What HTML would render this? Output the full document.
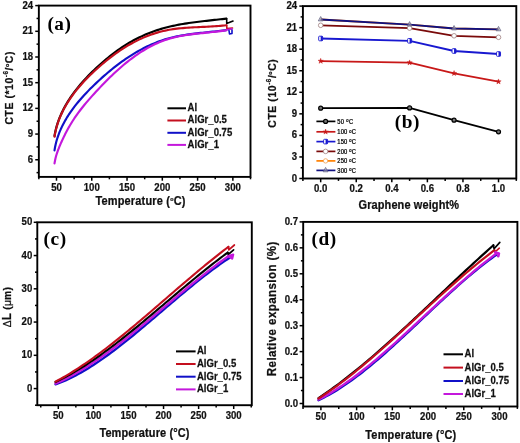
<!DOCTYPE html>
<html><head><meta charset="utf-8"><title>Thermal expansion of Al and AlGr composites</title>
<style>html,body{margin:0;padding:0;background:#fff;}body{width:520px;height:443px;overflow:hidden;}svg{display:block;}</style>
</head><body>
<svg width="520" height="443" viewBox="0 0 520 443">
<rect x="0" y="0" width="520" height="443" fill="#fff"/>
<path d="M54.50 150.32 L55.03 147.28 L55.57 144.76 L56.10 142.56 L56.64 140.59 L57.17 138.79 L57.71 137.13 L58.24 135.57 L58.78 134.11 L59.31 132.72 L59.84 131.39 L60.38 130.13 L60.91 128.92 L61.45 127.75 L61.98 126.62 L62.52 125.53 L63.05 124.47 L63.59 123.45 L64.12 122.45 L64.66 121.47 L65.19 120.53 L65.72 119.60 L66.26 118.69 L66.79 117.81 L67.33 116.94 L67.86 116.09 L68.40 115.25 L68.93 114.43 L69.47 113.63 L70.00 112.84 L70.50 112.11 L72.47 109.33 L74.44 106.70 L76.42 104.19 L78.39 101.77 L80.36 99.45 L82.33 97.21 L84.31 95.04 L86.28 92.92 L88.25 90.87 L90.22 88.87 L92.19 86.91 L94.17 84.99 L96.14 83.11 L98.11 81.27 L100.08 79.45 L102.05 77.67 L104.03 75.92 L106.00 74.20 L107.97 72.52 L109.94 70.86 L111.92 69.25 L113.89 67.66 L115.86 66.12 L117.83 64.60 L119.80 63.13 L121.78 61.69 L123.75 60.28 L125.72 58.92 L127.69 57.59 L129.66 56.30 L131.64 55.04 L133.61 53.82 L135.58 52.64 L137.55 51.50 L139.53 50.39 L141.50 49.33 L143.47 48.29 L145.44 47.30 L147.41 46.34 L149.39 45.42 L151.36 44.54 L153.33 43.70 L155.30 42.89 L157.27 42.12 L159.25 41.38 L161.22 40.69 L163.19 40.02 L165.16 39.40 L167.14 38.81 L169.11 38.26 L171.08 37.74 L173.05 37.26 L175.02 36.81 L177.00 36.40 L178.97 36.00 L180.94 35.64 L182.91 35.29 L184.88 34.97 L186.86 34.67 L188.83 34.38 L190.80 34.11 L192.77 33.85 L194.75 33.60 L196.72 33.36 L198.69 33.14 L200.66 32.92 L202.63 32.70 L204.61 32.49 L206.58 32.28 L208.55 32.08 L210.52 31.87 L212.49 31.66 L214.47 31.46 L216.44 31.25 L218.41 31.03 L220.38 30.81 L222.36 30.59 L224.33 30.36 L226.30 30.12" fill="none" stroke="#1010c8" stroke-width="2.15" stroke-linecap="round" stroke-linejoin="round"/>
<path d="M54.50 163.39 L55.03 160.44 L55.57 158.08 L56.10 156.06 L56.64 154.27 L57.17 152.63 L57.71 151.11 L58.24 149.67 L58.78 148.29 L59.31 146.97 L59.84 145.68 L60.38 144.42 L60.91 143.18 L61.45 141.97 L61.98 140.78 L62.52 139.62 L63.05 138.47 L63.59 137.35 L64.12 136.24 L64.66 135.15 L65.19 134.09 L65.72 133.04 L66.26 132.01 L66.79 131.00 L67.33 130.00 L67.86 129.02 L68.40 128.06 L68.93 127.11 L69.47 126.18 L70.00 125.27 L70.50 124.43 L72.47 121.23 L74.44 118.22 L76.42 115.36 L78.39 112.63 L80.36 110.01 L82.33 107.49 L84.31 105.05 L86.28 102.67 L88.25 100.36 L90.22 98.10 L92.19 95.88 L94.17 93.71 L96.14 91.57 L98.11 89.46 L100.08 87.37 L102.05 85.31 L104.03 83.28 L106.00 81.27 L107.97 79.29 L109.94 77.35 L111.92 75.44 L113.89 73.57 L115.86 71.74 L117.83 69.94 L119.80 68.18 L121.78 66.47 L123.75 64.80 L125.72 63.16 L127.69 61.58 L129.66 60.03 L131.64 58.53 L133.61 57.07 L135.58 55.66 L137.55 54.29 L139.53 52.97 L141.50 51.70 L143.47 50.47 L145.44 49.29 L147.41 48.15 L149.39 47.06 L151.36 46.02 L153.33 45.03 L155.30 44.08 L157.27 43.18 L159.25 42.32 L161.22 41.52 L163.19 40.76 L165.16 40.04 L167.14 39.38 L169.11 38.76 L171.08 38.19 L173.05 37.66 L175.02 37.18 L177.00 36.73 L178.97 36.32 L180.94 35.94 L182.91 35.59 L184.88 35.26 L186.86 34.96 L188.83 34.67 L190.80 34.41 L192.77 34.16 L194.75 33.92 L196.72 33.69 L198.69 33.47 L200.66 33.26 L202.63 33.06 L204.61 32.85 L206.58 32.65 L208.55 32.44 L210.52 32.23 L212.49 32.02 L214.47 31.81 L216.44 31.58 L218.41 31.35 L220.38 31.10 L222.36 30.85 L224.33 30.58 L226.30 30.30" fill="none" stroke="#c418dc" stroke-width="2.15" stroke-linecap="round" stroke-linejoin="round"/>
<path d="M54.50 136.01 L55.03 133.03 L55.57 130.54 L56.10 128.36 L56.64 126.39 L57.17 124.60 L57.71 122.93 L58.24 121.36 L58.78 119.89 L59.31 118.48 L59.84 117.14 L60.38 115.86 L60.91 114.63 L61.45 113.44 L61.98 112.30 L62.52 111.19 L63.05 110.11 L63.59 109.06 L64.12 108.04 L64.66 107.05 L65.19 106.08 L65.72 105.13 L66.26 104.20 L66.79 103.30 L67.33 102.41 L67.86 101.54 L68.40 100.68 L68.93 99.84 L69.47 99.02 L70.00 98.21 L70.50 97.46 L72.47 94.62 L74.44 91.92 L76.42 89.35 L78.39 86.89 L80.36 84.53 L82.33 82.25 L84.31 80.05 L86.28 77.91 L88.25 75.85 L90.22 73.83 L92.19 71.88 L94.17 69.97 L96.14 68.10 L98.11 66.28 L100.08 64.49 L102.05 62.75 L104.03 61.04 L106.00 59.37 L107.97 57.74 L109.94 56.15 L111.92 54.60 L113.89 53.09 L115.86 51.62 L117.83 50.19 L119.80 48.81 L121.78 47.47 L123.75 46.17 L125.72 44.91 L127.69 43.70 L129.66 42.53 L131.64 41.40 L133.61 40.31 L135.58 39.27 L137.55 38.26 L139.53 37.29 L141.50 36.36 L143.47 35.46 L145.44 34.60 L147.41 33.78 L149.39 32.99 L151.36 32.23 L153.33 31.50 L155.30 30.80 L157.27 30.14 L159.25 29.50 L161.22 28.90 L163.19 28.32 L165.16 27.77 L167.14 27.25 L169.11 26.76 L171.08 26.29 L173.05 25.85 L175.02 25.43 L177.00 25.04 L178.97 24.66 L180.94 24.30 L182.91 23.96 L184.88 23.64 L186.86 23.33 L188.83 23.04 L190.80 22.76 L192.77 22.49 L194.75 22.22 L196.72 21.97 L198.69 21.73 L200.66 21.49 L202.63 21.26 L204.61 21.03 L206.58 20.81 L208.55 20.59 L210.52 20.37 L212.49 20.16 L214.47 19.94 L216.44 19.73 L218.41 19.52 L220.38 19.30 L222.36 19.08 L224.33 18.86 L226.30 18.64" fill="none" stroke="#000000" stroke-width="2.15" stroke-linecap="round" stroke-linejoin="round"/>
<path d="M54.50 136.70 L55.03 133.66 L55.57 131.13 L56.10 128.92 L56.64 126.93 L57.17 125.12 L57.71 123.44 L58.24 121.86 L58.78 120.38 L59.31 118.98 L59.84 117.64 L60.38 116.36 L60.91 115.13 L61.45 113.94 L61.98 112.80 L62.52 111.70 L63.05 110.63 L63.59 109.59 L64.12 108.58 L64.66 107.59 L65.19 106.63 L65.72 105.69 L66.26 104.78 L66.79 103.88 L67.33 103.01 L67.86 102.15 L68.40 101.30 L68.93 100.48 L69.47 99.67 L70.00 98.87 L70.50 98.13 L72.47 95.34 L74.44 92.70 L76.42 90.19 L78.39 87.78 L80.36 85.47 L82.33 83.25 L84.31 81.10 L86.28 79.03 L88.25 77.01 L90.22 75.05 L92.19 73.15 L94.17 71.29 L96.14 69.48 L98.11 67.70 L100.08 65.97 L102.05 64.27 L104.03 62.61 L106.00 60.99 L107.97 59.40 L109.94 57.85 L111.92 56.34 L113.89 54.87 L115.86 53.44 L117.83 52.05 L119.80 50.70 L121.78 49.39 L123.75 48.12 L125.72 46.89 L127.69 45.70 L129.66 44.55 L131.64 43.44 L133.61 42.37 L135.58 41.34 L137.55 40.35 L139.53 39.40 L141.50 38.49 L143.47 37.63 L145.44 36.79 L147.41 36.00 L149.39 35.25 L151.36 34.54 L153.33 33.86 L155.30 33.22 L157.27 32.62 L159.25 32.06 L161.22 31.53 L163.19 31.05 L165.16 30.60 L167.14 30.18 L169.11 29.81 L171.08 29.47 L173.05 29.16 L175.02 28.89 L177.00 28.65 L178.97 28.43 L180.94 28.23 L182.91 28.06 L184.88 27.90 L186.86 27.76 L188.83 27.63 L190.80 27.51 L192.77 27.40 L194.75 27.30 L196.72 27.21 L198.69 27.11 L200.66 27.02 L202.63 26.93 L204.61 26.84 L206.58 26.74 L208.55 26.64 L210.52 26.54 L212.49 26.42 L214.47 26.30 L216.44 26.16 L218.41 26.02 L220.38 25.86 L222.36 25.69 L224.33 25.50 L226.30 25.30" fill="none" stroke="#c40f1e" stroke-width="2.15" stroke-linecap="round" stroke-linejoin="round"/>
<path d="M226.7 18.5 L226.7 23.5 L233 21.0" fill="none" stroke="#000000" stroke-width="1.60" stroke-linecap="round" stroke-linejoin="round"/>
<path d="M226.7 25.0 L226.9 28.6 L232.5 28.0" fill="none" stroke="#c40f1e" stroke-width="1.60" stroke-linecap="round" stroke-linejoin="round"/>
<path d="M226.7 29.8 L232 28.9" fill="none" stroke="#c418dc" stroke-width="1.60" stroke-linecap="round" stroke-linejoin="round"/>
<path d="M229 30.5 L229.5 34 L232 33.5 L232 30" fill="none" stroke="#1010c8" stroke-width="1.60" stroke-linecap="round" stroke-linejoin="round"/>
<rect x="38.85" y="5.60" width="211.65" height="171.30" fill="none" stroke="#000" stroke-width="1.90"/>
<line x1="35.25" y1="159.77" x2="38.85" y2="159.77" stroke="#000" stroke-width="1.50"/>
<text transform="translate(33.10 162.82) scale(0.850 1)" text-anchor="end" font-size="11.3" font-weight="bold" font-family="'Liberation Sans', Arial, sans-serif" fill="#111" stroke="#111" stroke-width="0.25">6</text>
<line x1="35.25" y1="134.07" x2="38.85" y2="134.07" stroke="#000" stroke-width="1.50"/>
<text transform="translate(33.10 137.12) scale(0.850 1)" text-anchor="end" font-size="11.3" font-weight="bold" font-family="'Liberation Sans', Arial, sans-serif" fill="#111" stroke="#111" stroke-width="0.25">9</text>
<line x1="35.25" y1="108.38" x2="38.85" y2="108.38" stroke="#000" stroke-width="1.50"/>
<text transform="translate(33.10 111.43) scale(0.850 1)" text-anchor="end" font-size="11.3" font-weight="bold" font-family="'Liberation Sans', Arial, sans-serif" fill="#111" stroke="#111" stroke-width="0.25">12</text>
<line x1="35.25" y1="82.69" x2="38.85" y2="82.69" stroke="#000" stroke-width="1.50"/>
<text transform="translate(33.10 85.73) scale(0.850 1)" text-anchor="end" font-size="11.3" font-weight="bold" font-family="'Liberation Sans', Arial, sans-serif" fill="#111" stroke="#111" stroke-width="0.25">15</text>
<line x1="35.25" y1="56.99" x2="38.85" y2="56.99" stroke="#000" stroke-width="1.50"/>
<text transform="translate(33.10 60.04) scale(0.850 1)" text-anchor="end" font-size="11.3" font-weight="bold" font-family="'Liberation Sans', Arial, sans-serif" fill="#111" stroke="#111" stroke-width="0.25">18</text>
<line x1="35.25" y1="31.30" x2="38.85" y2="31.30" stroke="#000" stroke-width="1.50"/>
<text transform="translate(33.10 34.34) scale(0.850 1)" text-anchor="end" font-size="11.3" font-weight="bold" font-family="'Liberation Sans', Arial, sans-serif" fill="#111" stroke="#111" stroke-width="0.25">21</text>
<line x1="35.25" y1="5.60" x2="38.85" y2="5.60" stroke="#000" stroke-width="1.50"/>
<text transform="translate(33.10 8.65) scale(0.850 1)" text-anchor="end" font-size="11.3" font-weight="bold" font-family="'Liberation Sans', Arial, sans-serif" fill="#111" stroke="#111" stroke-width="0.25">24</text>
<line x1="36.55" y1="172.62" x2="38.85" y2="172.62" stroke="#000" stroke-width="1.50"/>
<line x1="36.55" y1="146.92" x2="38.85" y2="146.92" stroke="#000" stroke-width="1.50"/>
<line x1="36.55" y1="121.23" x2="38.85" y2="121.23" stroke="#000" stroke-width="1.50"/>
<line x1="36.55" y1="95.53" x2="38.85" y2="95.53" stroke="#000" stroke-width="1.50"/>
<line x1="36.55" y1="69.84" x2="38.85" y2="69.84" stroke="#000" stroke-width="1.50"/>
<line x1="36.55" y1="44.14" x2="38.85" y2="44.14" stroke="#000" stroke-width="1.50"/>
<line x1="36.55" y1="18.45" x2="38.85" y2="18.45" stroke="#000" stroke-width="1.50"/>
<line x1="56.49" y1="176.90" x2="56.49" y2="180.70" stroke="#000" stroke-width="1.50"/>
<text transform="translate(56.49 190.80) scale(0.850 1)" text-anchor="middle" font-size="11.3" font-weight="bold" font-family="'Liberation Sans', Arial, sans-serif" fill="#111" stroke="#111" stroke-width="0.25">50</text>
<line x1="91.76" y1="176.90" x2="91.76" y2="180.70" stroke="#000" stroke-width="1.50"/>
<text transform="translate(91.76 190.80) scale(0.850 1)" text-anchor="middle" font-size="11.3" font-weight="bold" font-family="'Liberation Sans', Arial, sans-serif" fill="#111" stroke="#111" stroke-width="0.25">100</text>
<line x1="127.04" y1="176.90" x2="127.04" y2="180.70" stroke="#000" stroke-width="1.50"/>
<text transform="translate(127.04 190.80) scale(0.850 1)" text-anchor="middle" font-size="11.3" font-weight="bold" font-family="'Liberation Sans', Arial, sans-serif" fill="#111" stroke="#111" stroke-width="0.25">150</text>
<line x1="162.31" y1="176.90" x2="162.31" y2="180.70" stroke="#000" stroke-width="1.50"/>
<text transform="translate(162.31 190.80) scale(0.850 1)" text-anchor="middle" font-size="11.3" font-weight="bold" font-family="'Liberation Sans', Arial, sans-serif" fill="#111" stroke="#111" stroke-width="0.25">200</text>
<line x1="197.59" y1="176.90" x2="197.59" y2="180.70" stroke="#000" stroke-width="1.50"/>
<text transform="translate(197.59 190.80) scale(0.850 1)" text-anchor="middle" font-size="11.3" font-weight="bold" font-family="'Liberation Sans', Arial, sans-serif" fill="#111" stroke="#111" stroke-width="0.25">250</text>
<line x1="232.86" y1="176.90" x2="232.86" y2="180.70" stroke="#000" stroke-width="1.50"/>
<text transform="translate(232.86 190.80) scale(0.850 1)" text-anchor="middle" font-size="11.3" font-weight="bold" font-family="'Liberation Sans', Arial, sans-serif" fill="#111" stroke="#111" stroke-width="0.25">300</text>
<line x1="38.85" y1="176.90" x2="38.85" y2="179.30" stroke="#000" stroke-width="1.50"/>
<line x1="74.12" y1="176.90" x2="74.12" y2="179.30" stroke="#000" stroke-width="1.50"/>
<line x1="109.40" y1="176.90" x2="109.40" y2="179.30" stroke="#000" stroke-width="1.50"/>
<line x1="144.68" y1="176.90" x2="144.68" y2="179.30" stroke="#000" stroke-width="1.50"/>
<line x1="179.95" y1="176.90" x2="179.95" y2="179.30" stroke="#000" stroke-width="1.50"/>
<line x1="215.22" y1="176.90" x2="215.22" y2="179.30" stroke="#000" stroke-width="1.50"/>
<line x1="250.50" y1="176.90" x2="250.50" y2="179.30" stroke="#000" stroke-width="1.50"/>
<text transform="translate(95.40 205.20) scale(0.900 1)" textLength="100.00" lengthAdjust="spacing" font-size="12.2" font-weight="bold" font-family="'Liberation Sans', Arial, sans-serif" fill="#111" stroke="#111" stroke-width="0.25">Temperature (<tspan font-size="6" dy="-3.9">o</tspan><tspan dy="3.9">C)</tspan></text>
<text transform="translate(13.30 124.60) rotate(-90) scale(0.900 1)" textLength="81.11" lengthAdjust="spacing" font-size="11.59" font-weight="bold" font-family="'Liberation Sans', Arial, sans-serif" fill="#111" stroke="#111" stroke-width="0.25">CTE (*10<tspan font-size="7" dy="-5.2">-6</tspan><tspan dy="5.2">/</tspan><tspan font-size="6" dy="-3.9">o</tspan><tspan dy="3.9">C)</tspan></text>
<text transform="translate(47.40 29.60)" font-size="19.3" font-weight="bold" font-family="'Liberation Serif', 'Times New Roman', serif" fill="#000" letter-spacing="0.55">(a)</text>
<line x1="167.40" y1="108.30" x2="186.00" y2="108.30" stroke="#000000" stroke-width="2.00"/>
<text transform="translate(187.60 111.20) scale(0.870 1)" font-size="11" font-weight="bold" font-family="'Liberation Sans', Arial, sans-serif" fill="#111" stroke="#111" stroke-width="0.25">Al</text>
<line x1="167.40" y1="120.50" x2="186.00" y2="120.50" stroke="#c40f1e" stroke-width="2.00"/>
<text transform="translate(187.60 123.40) scale(0.870 1)" font-size="11" font-weight="bold" font-family="'Liberation Sans', Arial, sans-serif" fill="#111" stroke="#111" stroke-width="0.25">AlGr_0.5</text>
<line x1="167.40" y1="132.80" x2="186.00" y2="132.80" stroke="#1010c8" stroke-width="2.00"/>
<text transform="translate(187.60 135.70) scale(0.870 1)" font-size="11" font-weight="bold" font-family="'Liberation Sans', Arial, sans-serif" fill="#111" stroke="#111" stroke-width="0.25">AlGr_0.75</text>
<line x1="167.40" y1="144.90" x2="186.00" y2="144.90" stroke="#c418dc" stroke-width="2.00"/>
<text transform="translate(187.60 147.80) scale(0.870 1)" font-size="11" font-weight="bold" font-family="'Liberation Sans', Arial, sans-serif" fill="#111" stroke="#111" stroke-width="0.25">AlGr_1</text>
<polyline points="320.68,108.20 409.60,107.90 454.06,120.20 498.52,131.80" fill="none" stroke="#000000" stroke-width="1.8" stroke-linejoin="round"/>
<circle cx="320.68" cy="108.20" r="2.0" fill="#777" stroke="#000" stroke-width="1.2"/>
<circle cx="409.60" cy="107.90" r="2.0" fill="#777" stroke="#000" stroke-width="1.2"/>
<circle cx="454.06" cy="120.20" r="2.0" fill="#777" stroke="#000" stroke-width="1.2"/>
<circle cx="498.52" cy="131.80" r="2.0" fill="#777" stroke="#000" stroke-width="1.2"/>
<polyline points="320.68,61.10 409.60,62.70 454.06,73.30 498.52,81.70" fill="none" stroke="#c81818" stroke-width="1.8" stroke-linejoin="round"/>
<polygon points="320.68,58.30 321.33,60.21 323.35,60.23 321.73,61.44 322.33,63.37 320.68,62.20 319.04,63.37 319.64,61.44 318.02,60.23 320.04,60.21" fill="#c81818" stroke="#c81818" stroke-width="0.4"/>
<polygon points="409.60,59.90 410.25,61.81 412.26,61.83 410.65,63.04 411.25,64.97 409.60,63.80 407.95,64.97 408.55,63.04 406.94,61.83 408.95,61.81" fill="#c81818" stroke="#c81818" stroke-width="0.4"/>
<polygon points="454.06,70.50 454.70,72.41 456.72,72.43 455.10,73.64 455.70,75.57 454.06,74.40 452.41,75.57 453.01,73.64 451.40,72.43 453.41,72.41" fill="#c81818" stroke="#c81818" stroke-width="0.4"/>
<polygon points="498.52,78.90 499.16,80.81 501.18,80.83 499.56,82.04 500.16,83.97 498.52,82.80 496.87,83.97 497.47,82.04 495.85,80.83 497.87,80.81" fill="#c81818" stroke="#c81818" stroke-width="0.4"/>
<polyline points="320.68,38.50 409.60,40.80 454.06,51.00 498.52,54.00" fill="none" stroke="#1818d0" stroke-width="1.8" stroke-linejoin="round"/>
<rect x="318.68" y="36.20" width="4.0" height="4.6" rx="0.8" fill="#fff" stroke="#1818d0" stroke-width="0.9"/>
<rect x="320.68" y="36.20" width="2.0" height="4.6" fill="#1818d0"/>
<rect x="407.60" y="38.50" width="4.0" height="4.6" rx="0.8" fill="#fff" stroke="#1818d0" stroke-width="0.9"/>
<rect x="409.60" y="38.50" width="2.0" height="4.6" fill="#1818d0"/>
<rect x="452.06" y="48.70" width="4.0" height="4.6" rx="0.8" fill="#fff" stroke="#1818d0" stroke-width="0.9"/>
<rect x="454.06" y="48.70" width="2.0" height="4.6" fill="#1818d0"/>
<rect x="496.52" y="51.70" width="4.0" height="4.6" rx="0.8" fill="#fff" stroke="#1818d0" stroke-width="0.9"/>
<rect x="498.52" y="51.70" width="2.0" height="4.6" fill="#1818d0"/>
<polyline points="320.68,25.30 409.60,28.10 454.06,35.80 498.52,37.30" fill="none" stroke="#7a0a0a" stroke-width="1.8" stroke-linejoin="round"/>
<circle cx="320.68" cy="25.30" r="2.3" fill="#fff" stroke="#a08080" stroke-width="0.8"/>
<circle cx="409.60" cy="28.10" r="2.3" fill="#fff" stroke="#a08080" stroke-width="0.8"/>
<circle cx="454.06" cy="35.80" r="2.3" fill="#fff" stroke="#a08080" stroke-width="0.8"/>
<circle cx="498.52" cy="37.30" r="2.3" fill="#fff" stroke="#a08080" stroke-width="0.8"/>
<polyline points="320.68,19.50 409.60,24.60 454.06,28.50 498.52,29.40" fill="none" stroke="#ff8000" stroke-width="1.8" stroke-linejoin="round"/>
<polyline points="320.68,19.50 409.60,24.60 454.06,28.50 498.52,29.40" fill="none" stroke="#101080" stroke-width="1.8" stroke-linejoin="round"/>
<polygon points="320.68,16.50 318.28,20.90 323.08,20.90" fill="#a0a0b8" fill-opacity="0.6" stroke="#606080" stroke-width="0.7"/>
<polygon points="409.60,21.60 407.20,26.00 412.00,26.00" fill="#a0a0b8" fill-opacity="0.6" stroke="#606080" stroke-width="0.7"/>
<polygon points="454.06,25.50 451.66,29.90 456.46,29.90" fill="#a0a0b8" fill-opacity="0.6" stroke="#606080" stroke-width="0.7"/>
<polygon points="498.52,26.40 496.12,30.80 500.92,30.80" fill="#a0a0b8" fill-opacity="0.6" stroke="#606080" stroke-width="0.7"/>
<rect x="302.90" y="6.10" width="213.40" height="172.40" fill="none" stroke="#000" stroke-width="1.90"/>
<line x1="299.30" y1="178.50" x2="302.90" y2="178.50" stroke="#000" stroke-width="1.50"/>
<text transform="translate(297.20 181.55) scale(0.850 1)" text-anchor="end" font-size="11.3" font-weight="bold" font-family="'Liberation Sans', Arial, sans-serif" fill="#111" stroke="#111" stroke-width="0.25">0</text>
<line x1="299.30" y1="156.95" x2="302.90" y2="156.95" stroke="#000" stroke-width="1.50"/>
<text transform="translate(297.20 160.00) scale(0.850 1)" text-anchor="end" font-size="11.3" font-weight="bold" font-family="'Liberation Sans', Arial, sans-serif" fill="#111" stroke="#111" stroke-width="0.25">3</text>
<line x1="299.30" y1="135.40" x2="302.90" y2="135.40" stroke="#000" stroke-width="1.50"/>
<text transform="translate(297.20 138.45) scale(0.850 1)" text-anchor="end" font-size="11.3" font-weight="bold" font-family="'Liberation Sans', Arial, sans-serif" fill="#111" stroke="#111" stroke-width="0.25">6</text>
<line x1="299.30" y1="113.85" x2="302.90" y2="113.85" stroke="#000" stroke-width="1.50"/>
<text transform="translate(297.20 116.90) scale(0.850 1)" text-anchor="end" font-size="11.3" font-weight="bold" font-family="'Liberation Sans', Arial, sans-serif" fill="#111" stroke="#111" stroke-width="0.25">9</text>
<line x1="299.30" y1="92.30" x2="302.90" y2="92.30" stroke="#000" stroke-width="1.50"/>
<text transform="translate(297.20 95.35) scale(0.850 1)" text-anchor="end" font-size="11.3" font-weight="bold" font-family="'Liberation Sans', Arial, sans-serif" fill="#111" stroke="#111" stroke-width="0.25">12</text>
<line x1="299.30" y1="70.75" x2="302.90" y2="70.75" stroke="#000" stroke-width="1.50"/>
<text transform="translate(297.20 73.80) scale(0.850 1)" text-anchor="end" font-size="11.3" font-weight="bold" font-family="'Liberation Sans', Arial, sans-serif" fill="#111" stroke="#111" stroke-width="0.25">15</text>
<line x1="299.30" y1="49.20" x2="302.90" y2="49.20" stroke="#000" stroke-width="1.50"/>
<text transform="translate(297.20 52.25) scale(0.850 1)" text-anchor="end" font-size="11.3" font-weight="bold" font-family="'Liberation Sans', Arial, sans-serif" fill="#111" stroke="#111" stroke-width="0.25">18</text>
<line x1="299.30" y1="27.65" x2="302.90" y2="27.65" stroke="#000" stroke-width="1.50"/>
<text transform="translate(297.20 30.70) scale(0.850 1)" text-anchor="end" font-size="11.3" font-weight="bold" font-family="'Liberation Sans', Arial, sans-serif" fill="#111" stroke="#111" stroke-width="0.25">21</text>
<line x1="299.30" y1="6.10" x2="302.90" y2="6.10" stroke="#000" stroke-width="1.50"/>
<text transform="translate(297.20 9.15) scale(0.850 1)" text-anchor="end" font-size="11.3" font-weight="bold" font-family="'Liberation Sans', Arial, sans-serif" fill="#111" stroke="#111" stroke-width="0.25">24</text>
<line x1="300.60" y1="167.72" x2="302.90" y2="167.72" stroke="#000" stroke-width="1.50"/>
<line x1="300.60" y1="146.18" x2="302.90" y2="146.18" stroke="#000" stroke-width="1.50"/>
<line x1="300.60" y1="124.62" x2="302.90" y2="124.62" stroke="#000" stroke-width="1.50"/>
<line x1="300.60" y1="103.08" x2="302.90" y2="103.08" stroke="#000" stroke-width="1.50"/>
<line x1="300.60" y1="81.52" x2="302.90" y2="81.52" stroke="#000" stroke-width="1.50"/>
<line x1="300.60" y1="59.98" x2="302.90" y2="59.98" stroke="#000" stroke-width="1.50"/>
<line x1="300.60" y1="38.43" x2="302.90" y2="38.43" stroke="#000" stroke-width="1.50"/>
<line x1="300.60" y1="16.88" x2="302.90" y2="16.88" stroke="#000" stroke-width="1.50"/>
<line x1="320.68" y1="178.50" x2="320.68" y2="182.30" stroke="#000" stroke-width="1.50"/>
<text transform="translate(320.68 192.40) scale(0.850 1)" text-anchor="middle" font-size="11.3" font-weight="bold" font-family="'Liberation Sans', Arial, sans-serif" fill="#111" stroke="#111" stroke-width="0.25">0.0</text>
<line x1="356.25" y1="178.50" x2="356.25" y2="182.30" stroke="#000" stroke-width="1.50"/>
<text transform="translate(356.25 192.40) scale(0.850 1)" text-anchor="middle" font-size="11.3" font-weight="bold" font-family="'Liberation Sans', Arial, sans-serif" fill="#111" stroke="#111" stroke-width="0.25">0.2</text>
<line x1="391.82" y1="178.50" x2="391.82" y2="182.30" stroke="#000" stroke-width="1.50"/>
<text transform="translate(391.82 192.40) scale(0.850 1)" text-anchor="middle" font-size="11.3" font-weight="bold" font-family="'Liberation Sans', Arial, sans-serif" fill="#111" stroke="#111" stroke-width="0.25">0.4</text>
<line x1="427.38" y1="178.50" x2="427.38" y2="182.30" stroke="#000" stroke-width="1.50"/>
<text transform="translate(427.38 192.40) scale(0.850 1)" text-anchor="middle" font-size="11.3" font-weight="bold" font-family="'Liberation Sans', Arial, sans-serif" fill="#111" stroke="#111" stroke-width="0.25">0.6</text>
<line x1="462.95" y1="178.50" x2="462.95" y2="182.30" stroke="#000" stroke-width="1.50"/>
<text transform="translate(462.95 192.40) scale(0.850 1)" text-anchor="middle" font-size="11.3" font-weight="bold" font-family="'Liberation Sans', Arial, sans-serif" fill="#111" stroke="#111" stroke-width="0.25">0.8</text>
<line x1="498.52" y1="178.50" x2="498.52" y2="182.30" stroke="#000" stroke-width="1.50"/>
<text transform="translate(498.52 192.40) scale(0.850 1)" text-anchor="middle" font-size="11.3" font-weight="bold" font-family="'Liberation Sans', Arial, sans-serif" fill="#111" stroke="#111" stroke-width="0.25">1.0</text>
<line x1="302.90" y1="178.50" x2="302.90" y2="180.90" stroke="#000" stroke-width="1.50"/>
<line x1="338.47" y1="178.50" x2="338.47" y2="180.90" stroke="#000" stroke-width="1.50"/>
<line x1="374.03" y1="178.50" x2="374.03" y2="180.90" stroke="#000" stroke-width="1.50"/>
<line x1="409.60" y1="178.50" x2="409.60" y2="180.90" stroke="#000" stroke-width="1.50"/>
<line x1="445.17" y1="178.50" x2="445.17" y2="180.90" stroke="#000" stroke-width="1.50"/>
<line x1="480.73" y1="178.50" x2="480.73" y2="180.90" stroke="#000" stroke-width="1.50"/>
<line x1="516.30" y1="178.50" x2="516.30" y2="180.90" stroke="#000" stroke-width="1.50"/>
<text transform="translate(358.50 208.80) scale(0.900 1)" textLength="111.67" lengthAdjust="spacing" font-size="12.2" font-weight="bold" font-family="'Liberation Sans', Arial, sans-serif" fill="#111" stroke="#111" stroke-width="0.25">Graphene weight%</text>
<text transform="translate(275.90 127.70) rotate(-90) scale(0.900 1)" textLength="76.11" lengthAdjust="spacing" font-size="11.59" font-weight="bold" font-family="'Liberation Sans', Arial, sans-serif" fill="#111" stroke="#111" stroke-width="0.25">CTE (10<tspan font-size="7" dy="-5.2">-6</tspan><tspan dy="5.2">/</tspan><tspan font-size="6" dy="-3.9">o</tspan><tspan dy="3.9">C)</tspan></text>
<text transform="translate(394.80 128.00)" font-size="19.3" font-weight="bold" font-family="'Liberation Serif', 'Times New Roman', serif" fill="#000" letter-spacing="0.55">(b)</text>
<line x1="316.40" y1="121.40" x2="335.40" y2="121.40" stroke="#000000" stroke-width="1.70"/>
<circle cx="325.60" cy="121.40" r="2.0" fill="#777" stroke="#000" stroke-width="1.2"/>
<text transform="translate(337.20 123.70) scale(0.880 1)" textLength="18.18" lengthAdjust="spacing" font-size="6.6" font-family="'Liberation Sans', Arial, sans-serif" fill="#000" stroke="#000" stroke-width="0.25">50 <tspan font-size="4.6" dy="-1.6">o</tspan><tspan dy="1.6">C</tspan></text>
<line x1="316.40" y1="131.80" x2="335.40" y2="131.80" stroke="#c81818" stroke-width="1.70"/>
<polygon points="325.60,129.00 326.25,130.91 328.26,130.93 326.65,132.14 327.25,134.07 325.60,132.90 323.95,134.07 324.55,132.14 322.94,130.93 324.95,130.91" fill="#c81818" stroke="#c81818" stroke-width="0.4"/>
<text transform="translate(337.20 134.10) scale(0.880 1)" textLength="21.36" lengthAdjust="spacing" font-size="6.6" font-family="'Liberation Sans', Arial, sans-serif" fill="#000" stroke="#000" stroke-width="0.25">100 <tspan font-size="4.6" dy="-1.6">o</tspan><tspan dy="1.6">C</tspan></text>
<line x1="316.40" y1="141.60" x2="335.40" y2="141.60" stroke="#1818d0" stroke-width="1.70"/>
<rect x="323.60" y="139.30" width="4.0" height="4.6" rx="0.8" fill="#fff" stroke="#1818d0" stroke-width="0.9"/>
<rect x="325.60" y="139.30" width="2.0" height="4.6" fill="#1818d0"/>
<text transform="translate(337.20 143.90) scale(0.880 1)" textLength="21.36" lengthAdjust="spacing" font-size="6.6" font-family="'Liberation Sans', Arial, sans-serif" fill="#000" stroke="#000" stroke-width="0.25">150 <tspan font-size="4.6" dy="-1.6">o</tspan><tspan dy="1.6">C</tspan></text>
<line x1="316.40" y1="151.40" x2="335.40" y2="151.40" stroke="#7a0a0a" stroke-width="1.70"/>
<circle cx="325.60" cy="151.40" r="2.3" fill="#fff" stroke="#a08080" stroke-width="0.8"/>
<text transform="translate(337.20 153.70) scale(0.880 1)" textLength="21.36" lengthAdjust="spacing" font-size="6.6" font-family="'Liberation Sans', Arial, sans-serif" fill="#000" stroke="#000" stroke-width="0.25">200 <tspan font-size="4.6" dy="-1.6">o</tspan><tspan dy="1.6">C</tspan></text>
<line x1="316.40" y1="160.90" x2="335.40" y2="160.90" stroke="#ff8000" stroke-width="1.70"/>
<circle cx="325.60" cy="160.90" r="2.2" fill="#fff" stroke="#f0a050" stroke-width="0.8"/>
<text transform="translate(337.20 163.20) scale(0.880 1)" textLength="21.36" lengthAdjust="spacing" font-size="6.6" font-family="'Liberation Sans', Arial, sans-serif" fill="#000" stroke="#000" stroke-width="0.25">250 <tspan font-size="4.6" dy="-1.6">o</tspan><tspan dy="1.6">C</tspan></text>
<line x1="316.40" y1="170.40" x2="335.40" y2="170.40" stroke="#101080" stroke-width="1.70"/>
<polygon points="325.60,167.40 323.20,171.80 328.00,171.80" fill="#a0a0b8" fill-opacity="0.6" stroke="#606080" stroke-width="0.7"/>
<text transform="translate(337.20 172.70) scale(0.880 1)" textLength="21.36" lengthAdjust="spacing" font-size="6.6" font-family="'Liberation Sans', Arial, sans-serif" fill="#000" stroke="#000" stroke-width="0.25">300 <tspan font-size="4.6" dy="-1.6">o</tspan><tspan dy="1.6">C</tspan></text>
<path d="M55.50 384.41 L58.03 383.48 L60.56 382.49 L63.09 381.44 L65.62 380.34 L68.14 379.18 L70.67 377.97 L73.20 376.71 L75.73 375.40 L78.26 374.04 L80.79 372.63 L83.32 371.18 L85.85 369.68 L88.38 368.15 L90.91 366.56 L93.43 364.94 L95.96 363.29 L98.49 361.59 L101.02 359.86 L103.55 358.09 L106.08 356.29 L108.61 354.46 L111.14 352.60 L113.67 350.71 L116.20 348.80 L118.72 346.86 L121.25 344.89 L123.78 342.90 L126.31 340.89 L128.84 338.86 L131.37 336.81 L133.90 334.75 L136.43 332.66 L138.96 330.57 L141.49 328.46 L144.01 326.34 L146.54 324.21 L149.07 322.07 L151.60 319.92 L154.13 317.77 L156.66 315.61 L159.19 313.45 L161.72 311.29 L164.25 309.13 L166.78 306.97 L169.30 304.81 L171.83 302.66 L174.36 300.51 L176.89 298.37 L179.42 296.24 L181.95 294.12 L184.48 292.01 L187.01 289.91 L189.54 287.82 L192.07 285.75 L194.59 283.70 L197.12 281.67 L199.65 279.65 L202.18 277.66 L204.71 275.69 L207.24 273.75 L209.77 271.83 L212.30 269.93 L214.83 268.07 L217.36 266.23 L219.88 264.43 L222.41 262.66 L224.94 260.92 L227.47 259.22 L230.00 257.55" fill="none" stroke="#1010c8" stroke-width="2.30" stroke-linecap="round" stroke-linejoin="round"/>
<path d="M55.50 383.64 L58.01 382.52 L60.51 381.37 L63.02 380.17 L65.53 378.92 L68.04 377.63 L70.54 376.31 L73.05 374.94 L75.56 373.53 L78.07 372.08 L80.57 370.60 L83.08 369.08 L85.59 367.52 L88.09 365.93 L90.60 364.31 L93.11 362.66 L95.62 360.97 L98.12 359.26 L100.63 357.52 L103.14 355.75 L105.64 353.95 L108.15 352.13 L110.66 350.29 L113.17 348.42 L115.67 346.53 L118.18 344.61 L120.69 342.68 L123.20 340.73 L125.70 338.76 L128.21 336.78 L130.72 334.78 L133.22 332.76 L135.73 330.73 L138.24 328.69 L140.75 326.64 L143.25 324.58 L145.76 322.51 L148.27 320.43 L150.78 318.34 L153.28 316.25 L155.79 314.15 L158.30 312.05 L160.80 309.94 L163.31 307.84 L165.82 305.73 L168.33 303.63 L170.83 301.52 L173.34 299.42 L175.85 297.33 L178.36 295.23 L180.86 293.15 L183.37 291.07 L185.88 289.00 L188.38 286.93 L190.89 284.88 L193.40 282.84 L195.91 280.81 L198.41 278.80 L200.92 276.80 L203.43 274.81 L205.93 272.85 L208.44 270.90 L210.95 268.96 L213.46 267.05 L215.96 265.16 L218.47 263.29 L220.98 261.45 L223.49 259.63 L225.99 257.83 L228.50 256.06" fill="none" stroke="#c418dc" stroke-width="2.30" stroke-linecap="round" stroke-linejoin="round"/>
<path d="M55.50 382.04 L58.00 380.85 L60.49 379.62 L62.99 378.35 L65.48 377.04 L67.98 375.69 L70.47 374.30 L72.97 372.88 L75.47 371.42 L77.96 369.92 L80.46 368.39 L82.95 366.83 L85.45 365.24 L87.94 363.61 L90.44 361.96 L92.93 360.27 L95.43 358.56 L97.93 356.82 L100.42 355.06 L102.92 353.27 L105.41 351.45 L107.91 349.61 L110.40 347.75 L112.90 345.87 L115.40 343.97 L117.89 342.04 L120.39 340.10 L122.88 338.14 L125.38 336.17 L127.87 334.18 L130.37 332.17 L132.87 330.15 L135.36 328.12 L137.86 326.07 L140.35 324.02 L142.85 321.95 L145.34 319.88 L147.84 317.79 L150.33 315.70 L152.83 313.61 L155.33 311.51 L157.82 309.40 L160.32 307.29 L162.81 305.18 L165.31 303.07 L167.80 300.95 L170.30 298.84 L172.80 296.73 L175.29 294.62 L177.79 292.51 L180.28 290.41 L182.78 288.31 L185.27 286.22 L187.77 284.14 L190.27 282.07 L192.76 280.00 L195.26 277.94 L197.75 275.90 L200.25 273.87 L202.74 271.85 L205.24 269.84 L207.73 267.85 L210.23 265.87 L212.73 263.92 L215.22 261.97 L217.72 260.05 L220.21 258.15 L222.71 256.27 L225.20 254.41 L227.70 252.57" fill="none" stroke="#000000" stroke-width="2.10" stroke-linecap="round" stroke-linejoin="round"/>
<path d="M55.50 381.62 L58.01 380.28 L60.51 378.91 L63.02 377.50 L65.52 376.05 L68.03 374.57 L70.53 373.05 L73.04 371.50 L75.55 369.92 L78.05 368.31 L80.56 366.66 L83.06 364.99 L85.57 363.28 L88.08 361.55 L90.58 359.79 L93.09 358.01 L95.59 356.20 L98.10 354.36 L100.60 352.50 L103.11 350.62 L105.62 348.72 L108.12 346.79 L110.63 344.85 L113.13 342.88 L115.64 340.90 L118.14 338.90 L120.65 336.88 L123.16 334.85 L125.66 332.80 L128.17 330.74 L130.67 328.66 L133.18 326.57 L135.69 324.48 L138.19 322.37 L140.70 320.25 L143.20 318.12 L145.71 315.98 L148.21 313.84 L150.72 311.69 L153.23 309.54 L155.73 307.38 L158.24 305.22 L160.74 303.05 L163.25 300.89 L165.76 298.72 L168.26 296.55 L170.77 294.39 L173.27 292.23 L175.78 290.06 L178.28 287.91 L180.79 285.75 L183.30 283.61 L185.80 281.46 L188.31 279.33 L190.81 277.20 L193.32 275.09 L195.82 272.98 L198.33 270.88 L200.84 268.79 L203.34 266.72 L205.85 264.66 L208.35 262.62 L210.86 260.58 L213.37 258.57 L215.87 256.57 L218.38 254.59 L220.88 252.63 L223.39 250.69 L225.89 248.76 L228.40 246.86" fill="none" stroke="#c40f1e" stroke-width="2.10" stroke-linecap="round" stroke-linejoin="round"/>
<path d="M228.5 246.6 L228.8 249.8 L234.4 245.0" fill="none" stroke="#c40f1e" stroke-width="1.70" stroke-linecap="round" stroke-linejoin="round"/>
<path d="M227.7 252.3 L228.2 254.5 L233.6 249.9" fill="none" stroke="#000000" stroke-width="1.70" stroke-linecap="round" stroke-linejoin="round"/>
<path d="M228.5 256.0 L233.2 254.6 L232.2 258.6 Z" fill="#c418dc" stroke="#c418dc" stroke-width="2.20" stroke-linecap="round" stroke-linejoin="round"/>
<rect x="37.30" y="222.30" width="214.50" height="182.90" fill="none" stroke="#000" stroke-width="1.90"/>
<line x1="33.70" y1="388.57" x2="37.30" y2="388.57" stroke="#000" stroke-width="1.50"/>
<text transform="translate(32.30 391.62) scale(0.850 1)" text-anchor="end" font-size="11.3" font-weight="bold" font-family="'Liberation Sans', Arial, sans-serif" fill="#111" stroke="#111" stroke-width="0.25">0</text>
<line x1="33.70" y1="355.32" x2="37.30" y2="355.32" stroke="#000" stroke-width="1.50"/>
<text transform="translate(32.30 358.37) scale(0.850 1)" text-anchor="end" font-size="11.3" font-weight="bold" font-family="'Liberation Sans', Arial, sans-serif" fill="#111" stroke="#111" stroke-width="0.25">10</text>
<line x1="33.70" y1="322.06" x2="37.30" y2="322.06" stroke="#000" stroke-width="1.50"/>
<text transform="translate(32.30 325.11) scale(0.850 1)" text-anchor="end" font-size="11.3" font-weight="bold" font-family="'Liberation Sans', Arial, sans-serif" fill="#111" stroke="#111" stroke-width="0.25">20</text>
<line x1="33.70" y1="288.81" x2="37.30" y2="288.81" stroke="#000" stroke-width="1.50"/>
<text transform="translate(32.30 291.86) scale(0.850 1)" text-anchor="end" font-size="11.3" font-weight="bold" font-family="'Liberation Sans', Arial, sans-serif" fill="#111" stroke="#111" stroke-width="0.25">30</text>
<line x1="33.70" y1="255.55" x2="37.30" y2="255.55" stroke="#000" stroke-width="1.50"/>
<text transform="translate(32.30 258.60) scale(0.850 1)" text-anchor="end" font-size="11.3" font-weight="bold" font-family="'Liberation Sans', Arial, sans-serif" fill="#111" stroke="#111" stroke-width="0.25">40</text>
<line x1="33.70" y1="222.30" x2="37.30" y2="222.30" stroke="#000" stroke-width="1.50"/>
<text transform="translate(32.30 225.35) scale(0.850 1)" text-anchor="end" font-size="11.3" font-weight="bold" font-family="'Liberation Sans', Arial, sans-serif" fill="#111" stroke="#111" stroke-width="0.25">50</text>
<line x1="35.00" y1="405.20" x2="37.30" y2="405.20" stroke="#000" stroke-width="1.50"/>
<line x1="35.00" y1="371.95" x2="37.30" y2="371.95" stroke="#000" stroke-width="1.50"/>
<line x1="35.00" y1="338.69" x2="37.30" y2="338.69" stroke="#000" stroke-width="1.50"/>
<line x1="35.00" y1="305.44" x2="37.30" y2="305.44" stroke="#000" stroke-width="1.50"/>
<line x1="35.00" y1="272.18" x2="37.30" y2="272.18" stroke="#000" stroke-width="1.50"/>
<line x1="35.00" y1="238.93" x2="37.30" y2="238.93" stroke="#000" stroke-width="1.50"/>
<line x1="58.30" y1="405.20" x2="58.30" y2="409.00" stroke="#000" stroke-width="1.50"/>
<text transform="translate(58.30 419.10) scale(0.850 1)" text-anchor="middle" font-size="11.3" font-weight="bold" font-family="'Liberation Sans', Arial, sans-serif" fill="#111" stroke="#111" stroke-width="0.25">50</text>
<line x1="93.38" y1="405.20" x2="93.38" y2="409.00" stroke="#000" stroke-width="1.50"/>
<text transform="translate(93.38 419.10) scale(0.850 1)" text-anchor="middle" font-size="11.3" font-weight="bold" font-family="'Liberation Sans', Arial, sans-serif" fill="#111" stroke="#111" stroke-width="0.25">100</text>
<line x1="128.46" y1="405.20" x2="128.46" y2="409.00" stroke="#000" stroke-width="1.50"/>
<text transform="translate(128.46 419.10) scale(0.850 1)" text-anchor="middle" font-size="11.3" font-weight="bold" font-family="'Liberation Sans', Arial, sans-serif" fill="#111" stroke="#111" stroke-width="0.25">150</text>
<line x1="163.54" y1="405.20" x2="163.54" y2="409.00" stroke="#000" stroke-width="1.50"/>
<text transform="translate(163.54 419.10) scale(0.850 1)" text-anchor="middle" font-size="11.3" font-weight="bold" font-family="'Liberation Sans', Arial, sans-serif" fill="#111" stroke="#111" stroke-width="0.25">200</text>
<line x1="198.62" y1="405.20" x2="198.62" y2="409.00" stroke="#000" stroke-width="1.50"/>
<text transform="translate(198.62 419.10) scale(0.850 1)" text-anchor="middle" font-size="11.3" font-weight="bold" font-family="'Liberation Sans', Arial, sans-serif" fill="#111" stroke="#111" stroke-width="0.25">250</text>
<line x1="233.70" y1="405.20" x2="233.70" y2="409.00" stroke="#000" stroke-width="1.50"/>
<text transform="translate(233.70 419.10) scale(0.850 1)" text-anchor="middle" font-size="11.3" font-weight="bold" font-family="'Liberation Sans', Arial, sans-serif" fill="#111" stroke="#111" stroke-width="0.25">300</text>
<line x1="40.76" y1="405.20" x2="40.76" y2="407.60" stroke="#000" stroke-width="1.50"/>
<line x1="75.84" y1="405.20" x2="75.84" y2="407.60" stroke="#000" stroke-width="1.50"/>
<line x1="110.92" y1="405.20" x2="110.92" y2="407.60" stroke="#000" stroke-width="1.50"/>
<line x1="146.00" y1="405.20" x2="146.00" y2="407.60" stroke="#000" stroke-width="1.50"/>
<line x1="181.08" y1="405.20" x2="181.08" y2="407.60" stroke="#000" stroke-width="1.50"/>
<line x1="216.16" y1="405.20" x2="216.16" y2="407.60" stroke="#000" stroke-width="1.50"/>
<line x1="251.24" y1="405.20" x2="251.24" y2="407.60" stroke="#000" stroke-width="1.50"/>
<text transform="translate(99.40 437.30) scale(0.900 1)" textLength="100.00" lengthAdjust="spacing" font-size="12.2" font-weight="bold" font-family="'Liberation Sans', Arial, sans-serif" fill="#111" stroke="#111" stroke-width="0.25">Temperature (°C)</text>
<text transform="translate(10.90 327.20) rotate(-90) scale(0.920 1)" textLength="43.70" lengthAdjust="spacing" font-size="11.2" font-family="'Liberation Sans', Arial, sans-serif" fill="#111" stroke="#111" stroke-width="0.25">&#916;<tspan font-weight="bold" font-size="12">L</tspan> <tspan font-weight="bold">(</tspan>&#956;<tspan font-weight="bold">m)</tspan></text>
<text transform="translate(43.60 245.30)" font-size="19.3" font-weight="bold" font-family="'Liberation Serif', 'Times New Roman', serif" fill="#000" letter-spacing="0.55">(c)</text>
<line x1="176.00" y1="351.40" x2="195.60" y2="351.40" stroke="#000000" stroke-width="2.00"/>
<text transform="translate(196.90 354.30) scale(0.870 1)" font-size="11" font-weight="bold" font-family="'Liberation Sans', Arial, sans-serif" fill="#111" stroke="#111" stroke-width="0.25">Al</text>
<line x1="176.00" y1="364.00" x2="195.60" y2="364.00" stroke="#c40f1e" stroke-width="2.00"/>
<text transform="translate(196.90 366.90) scale(0.870 1)" font-size="11" font-weight="bold" font-family="'Liberation Sans', Arial, sans-serif" fill="#111" stroke="#111" stroke-width="0.25">AlGr_0.5</text>
<line x1="176.00" y1="376.70" x2="195.60" y2="376.70" stroke="#1010c8" stroke-width="2.00"/>
<text transform="translate(196.90 379.60) scale(0.870 1)" font-size="11" font-weight="bold" font-family="'Liberation Sans', Arial, sans-serif" fill="#111" stroke="#111" stroke-width="0.25">AlGr_0.75</text>
<line x1="176.00" y1="389.40" x2="195.60" y2="389.40" stroke="#c418dc" stroke-width="2.00"/>
<text transform="translate(196.90 392.30) scale(0.870 1)" font-size="11" font-weight="bold" font-family="'Liberation Sans', Arial, sans-serif" fill="#111" stroke="#111" stroke-width="0.25">AlGr_1</text>
<path d="M318.50 400.18 L321.08 398.96 L323.66 397.67 L326.23 396.33 L328.81 394.93 L331.39 393.47 L333.97 391.96 L336.55 390.40 L339.13 388.78 L341.70 387.12 L344.28 385.41 L346.86 383.65 L349.44 381.85 L352.02 380.01 L354.60 378.12 L357.17 376.19 L359.75 374.23 L362.33 372.23 L364.91 370.19 L367.49 368.12 L370.07 366.01 L372.64 363.88 L375.22 361.71 L377.80 359.52 L380.38 357.30 L382.96 355.05 L385.53 352.78 L388.11 350.50 L390.69 348.18 L393.27 345.86 L395.85 343.51 L398.43 341.15 L401.00 338.77 L403.58 336.38 L406.16 333.98 L408.74 331.57 L411.32 329.15 L413.90 326.73 L416.47 324.30 L419.05 321.87 L421.63 319.43 L424.21 316.99 L426.79 314.56 L429.37 312.13 L431.94 309.70 L434.52 307.28 L437.10 304.86 L439.68 302.45 L442.26 300.06 L444.83 297.67 L447.41 295.30 L449.99 292.94 L452.57 290.60 L455.15 288.28 L457.73 285.97 L460.30 283.69 L462.88 281.43 L465.46 279.19 L468.04 276.98 L470.62 274.80 L473.20 272.64 L475.77 270.52 L478.35 268.42 L480.93 266.36 L483.51 264.33 L486.09 262.34 L488.67 260.39 L491.24 258.48 L493.82 256.60 L496.40 254.77" fill="none" stroke="#1010c8" stroke-width="2.30" stroke-linecap="round" stroke-linejoin="round"/>
<path d="M318.50 399.60 L321.08 398.27 L323.66 396.89 L326.23 395.45 L328.81 393.97 L331.39 392.44 L333.97 390.86 L336.55 389.24 L339.13 387.57 L341.70 385.86 L344.28 384.10 L346.86 382.31 L349.44 380.48 L352.02 378.60 L354.60 376.70 L357.17 374.75 L359.75 372.78 L362.33 370.77 L364.91 368.72 L367.49 366.65 L370.07 364.55 L372.64 362.42 L375.22 360.27 L377.80 358.09 L380.38 355.89 L382.96 353.66 L385.53 351.42 L388.11 349.15 L390.69 346.87 L393.27 344.57 L395.85 342.25 L398.43 339.92 L401.00 337.57 L403.58 335.22 L406.16 332.85 L408.74 330.47 L411.32 328.09 L413.90 325.70 L416.47 323.30 L419.05 320.90 L421.63 318.50 L424.21 316.10 L426.79 313.69 L429.37 311.29 L431.94 308.89 L434.52 306.49 L437.10 304.10 L439.68 301.71 L442.26 299.34 L444.83 296.97 L447.41 294.61 L449.99 292.26 L452.57 289.93 L455.15 287.61 L457.73 285.30 L460.30 283.02 L462.88 280.75 L465.46 278.50 L468.04 276.27 L470.62 274.06 L473.20 271.88 L475.77 269.72 L478.35 267.59 L480.93 265.48 L483.51 263.40 L486.09 261.36 L488.67 259.34 L491.24 257.36 L493.82 255.41 L496.40 253.49" fill="none" stroke="#c418dc" stroke-width="2.30" stroke-linecap="round" stroke-linejoin="round"/>
<path d="M318.50 398.04 L321.03 396.35 L323.57 394.64 L326.10 392.90 L328.64 391.12 L331.17 389.32 L333.71 387.49 L336.24 385.64 L338.78 383.76 L341.31 381.85 L343.85 379.92 L346.38 377.96 L348.92 375.98 L351.45 373.98 L353.99 371.96 L356.52 369.91 L359.06 367.84 L361.59 365.76 L364.13 363.65 L366.66 361.52 L369.20 359.38 L371.73 357.22 L374.27 355.04 L376.80 352.84 L379.33 350.63 L381.87 348.40 L384.40 346.16 L386.94 343.91 L389.47 341.64 L392.01 339.36 L394.54 337.06 L397.08 334.76 L399.61 332.44 L402.15 330.12 L404.68 327.79 L407.22 325.44 L409.75 323.09 L412.29 320.73 L414.82 318.37 L417.36 316.00 L419.89 313.62 L422.43 311.24 L424.96 308.86 L427.50 306.47 L430.03 304.08 L432.57 301.68 L435.10 299.29 L437.63 296.89 L440.17 294.50 L442.70 292.10 L445.24 289.71 L447.77 287.31 L450.31 284.92 L452.84 282.53 L455.38 280.15 L457.91 277.77 L460.45 275.40 L462.98 273.03 L465.52 270.66 L468.05 268.31 L470.59 265.96 L473.12 263.62 L475.66 261.29 L478.19 258.97 L480.73 256.65 L483.26 254.35 L485.80 252.06 L488.33 249.79 L490.87 247.52 L493.40 245.27" fill="none" stroke="#000000" stroke-width="2.20" stroke-linecap="round" stroke-linejoin="round"/>
<path d="M318.50 398.45 L321.05 396.81 L323.60 395.14 L326.15 393.43 L328.70 391.69 L331.25 389.92 L333.80 388.11 L336.34 386.27 L338.89 384.39 L341.44 382.49 L343.99 380.56 L346.54 378.60 L349.09 376.61 L351.64 374.60 L354.19 372.56 L356.74 370.50 L359.29 368.41 L361.84 366.31 L364.39 364.18 L366.94 362.03 L369.49 359.86 L372.03 357.67 L374.58 355.47 L377.13 353.24 L379.68 351.01 L382.23 348.76 L384.78 346.49 L387.33 344.21 L389.88 341.93 L392.43 339.63 L394.98 337.32 L397.53 335.00 L400.08 332.68 L402.63 330.34 L405.18 328.01 L407.72 325.67 L410.27 323.32 L412.82 320.97 L415.37 318.62 L417.92 316.27 L420.47 313.92 L423.02 311.57 L425.57 309.22 L428.12 306.88 L430.67 304.54 L433.22 302.20 L435.77 299.87 L438.32 297.55 L440.87 295.24 L443.41 292.93 L445.96 290.64 L448.51 288.36 L451.06 286.08 L453.61 283.82 L456.16 281.58 L458.71 279.35 L461.26 277.13 L463.81 274.94 L466.36 272.76 L468.91 270.60 L471.46 268.45 L474.01 266.33 L476.56 264.23 L479.10 262.16 L481.65 260.11 L484.20 258.08 L486.75 256.08 L489.30 254.10 L491.85 252.15 L494.40 250.23" fill="none" stroke="#c40f1e" stroke-width="2.20" stroke-linecap="round" stroke-linejoin="round"/>
<path d="M493.4 245.2 L494.1 248.8 L499.8 242.4" fill="none" stroke="#000000" stroke-width="1.70" stroke-linecap="round" stroke-linejoin="round"/>
<path d="M494.4 250.2 L495 252 L499.3 248.2" fill="none" stroke="#c40f1e" stroke-width="1.60" stroke-linecap="round" stroke-linejoin="round"/>
<path d="M495.5 252.5 L498.8 253.5 L498.2 256.2" fill="none" stroke="#c418dc" stroke-width="2.80" stroke-linecap="round" stroke-linejoin="round"/>
<rect x="303.20" y="221.90" width="214.20" height="184.60" fill="none" stroke="#000" stroke-width="1.90"/>
<line x1="299.60" y1="403.50" x2="303.20" y2="403.50" stroke="#000" stroke-width="1.50"/>
<text transform="translate(298.00 406.55) scale(0.850 1)" text-anchor="end" font-size="11.3" font-weight="bold" font-family="'Liberation Sans', Arial, sans-serif" fill="#111" stroke="#111" stroke-width="0.25">0.0</text>
<line x1="299.60" y1="377.56" x2="303.20" y2="377.56" stroke="#000" stroke-width="1.50"/>
<text transform="translate(298.00 380.61) scale(0.850 1)" text-anchor="end" font-size="11.3" font-weight="bold" font-family="'Liberation Sans', Arial, sans-serif" fill="#111" stroke="#111" stroke-width="0.25">0.1</text>
<line x1="299.60" y1="351.61" x2="303.20" y2="351.61" stroke="#000" stroke-width="1.50"/>
<text transform="translate(298.00 354.66) scale(0.850 1)" text-anchor="end" font-size="11.3" font-weight="bold" font-family="'Liberation Sans', Arial, sans-serif" fill="#111" stroke="#111" stroke-width="0.25">0.2</text>
<line x1="299.60" y1="325.67" x2="303.20" y2="325.67" stroke="#000" stroke-width="1.50"/>
<text transform="translate(298.00 328.72) scale(0.850 1)" text-anchor="end" font-size="11.3" font-weight="bold" font-family="'Liberation Sans', Arial, sans-serif" fill="#111" stroke="#111" stroke-width="0.25">0.3</text>
<line x1="299.60" y1="299.73" x2="303.20" y2="299.73" stroke="#000" stroke-width="1.50"/>
<text transform="translate(298.00 302.78) scale(0.850 1)" text-anchor="end" font-size="11.3" font-weight="bold" font-family="'Liberation Sans', Arial, sans-serif" fill="#111" stroke="#111" stroke-width="0.25">0.4</text>
<line x1="299.60" y1="273.79" x2="303.20" y2="273.79" stroke="#000" stroke-width="1.50"/>
<text transform="translate(298.00 276.84) scale(0.850 1)" text-anchor="end" font-size="11.3" font-weight="bold" font-family="'Liberation Sans', Arial, sans-serif" fill="#111" stroke="#111" stroke-width="0.25">0.5</text>
<line x1="299.60" y1="247.84" x2="303.20" y2="247.84" stroke="#000" stroke-width="1.50"/>
<text transform="translate(298.00 250.89) scale(0.850 1)" text-anchor="end" font-size="11.3" font-weight="bold" font-family="'Liberation Sans', Arial, sans-serif" fill="#111" stroke="#111" stroke-width="0.25">0.6</text>
<line x1="299.60" y1="221.90" x2="303.20" y2="221.90" stroke="#000" stroke-width="1.50"/>
<text transform="translate(298.00 224.95) scale(0.850 1)" text-anchor="end" font-size="11.3" font-weight="bold" font-family="'Liberation Sans', Arial, sans-serif" fill="#111" stroke="#111" stroke-width="0.25">0.7</text>
<line x1="300.90" y1="390.53" x2="303.20" y2="390.53" stroke="#000" stroke-width="1.50"/>
<line x1="300.90" y1="364.59" x2="303.20" y2="364.59" stroke="#000" stroke-width="1.50"/>
<line x1="300.90" y1="338.64" x2="303.20" y2="338.64" stroke="#000" stroke-width="1.50"/>
<line x1="300.90" y1="312.70" x2="303.20" y2="312.70" stroke="#000" stroke-width="1.50"/>
<line x1="300.90" y1="286.76" x2="303.20" y2="286.76" stroke="#000" stroke-width="1.50"/>
<line x1="300.90" y1="260.81" x2="303.20" y2="260.81" stroke="#000" stroke-width="1.50"/>
<line x1="300.90" y1="234.87" x2="303.20" y2="234.87" stroke="#000" stroke-width="1.50"/>
<line x1="320.90" y1="406.50" x2="320.90" y2="410.30" stroke="#000" stroke-width="1.50"/>
<text transform="translate(320.90 420.40) scale(0.850 1)" text-anchor="middle" font-size="11.3" font-weight="bold" font-family="'Liberation Sans', Arial, sans-serif" fill="#111" stroke="#111" stroke-width="0.25">50</text>
<line x1="356.62" y1="406.50" x2="356.62" y2="410.30" stroke="#000" stroke-width="1.50"/>
<text transform="translate(356.62 420.40) scale(0.850 1)" text-anchor="middle" font-size="11.3" font-weight="bold" font-family="'Liberation Sans', Arial, sans-serif" fill="#111" stroke="#111" stroke-width="0.25">100</text>
<line x1="392.34" y1="406.50" x2="392.34" y2="410.30" stroke="#000" stroke-width="1.50"/>
<text transform="translate(392.34 420.40) scale(0.850 1)" text-anchor="middle" font-size="11.3" font-weight="bold" font-family="'Liberation Sans', Arial, sans-serif" fill="#111" stroke="#111" stroke-width="0.25">150</text>
<line x1="428.06" y1="406.50" x2="428.06" y2="410.30" stroke="#000" stroke-width="1.50"/>
<text transform="translate(428.06 420.40) scale(0.850 1)" text-anchor="middle" font-size="11.3" font-weight="bold" font-family="'Liberation Sans', Arial, sans-serif" fill="#111" stroke="#111" stroke-width="0.25">200</text>
<line x1="463.78" y1="406.50" x2="463.78" y2="410.30" stroke="#000" stroke-width="1.50"/>
<text transform="translate(463.78 420.40) scale(0.850 1)" text-anchor="middle" font-size="11.3" font-weight="bold" font-family="'Liberation Sans', Arial, sans-serif" fill="#111" stroke="#111" stroke-width="0.25">250</text>
<line x1="499.50" y1="406.50" x2="499.50" y2="410.30" stroke="#000" stroke-width="1.50"/>
<text transform="translate(499.50 420.40) scale(0.850 1)" text-anchor="middle" font-size="11.3" font-weight="bold" font-family="'Liberation Sans', Arial, sans-serif" fill="#111" stroke="#111" stroke-width="0.25">300</text>
<line x1="303.04" y1="406.50" x2="303.04" y2="408.90" stroke="#000" stroke-width="1.50"/>
<line x1="338.76" y1="406.50" x2="338.76" y2="408.90" stroke="#000" stroke-width="1.50"/>
<line x1="374.48" y1="406.50" x2="374.48" y2="408.90" stroke="#000" stroke-width="1.50"/>
<line x1="410.20" y1="406.50" x2="410.20" y2="408.90" stroke="#000" stroke-width="1.50"/>
<line x1="445.92" y1="406.50" x2="445.92" y2="408.90" stroke="#000" stroke-width="1.50"/>
<line x1="481.64" y1="406.50" x2="481.64" y2="408.90" stroke="#000" stroke-width="1.50"/>
<line x1="517.36" y1="406.50" x2="517.36" y2="408.90" stroke="#000" stroke-width="1.50"/>
<text transform="translate(365.30 438.80) scale(0.900 1)" textLength="101.11" lengthAdjust="spacing" font-size="12.2" font-weight="bold" font-family="'Liberation Sans', Arial, sans-serif" fill="#111" stroke="#111" stroke-width="0.25">Temperature (°C)</text>
<text transform="translate(275.80 376.20) rotate(-90) scale(0.900 1)" textLength="149.44" lengthAdjust="spacing" font-size="12.81" font-weight="bold" font-family="'Liberation Sans', Arial, sans-serif" fill="#111" stroke="#111" stroke-width="0.25">Relative expansion (%)</text>
<text transform="translate(311.50 245.40)" font-size="19.3" font-weight="bold" font-family="'Liberation Serif', 'Times New Roman', serif" fill="#000" letter-spacing="0.55">(d)</text>
<line x1="443.50" y1="354.30" x2="463.00" y2="354.30" stroke="#000000" stroke-width="2.00"/>
<text transform="translate(464.50 357.20) scale(0.870 1)" font-size="11" font-weight="bold" font-family="'Liberation Sans', Arial, sans-serif" fill="#111" stroke="#111" stroke-width="0.25">Al</text>
<line x1="443.50" y1="367.60" x2="463.00" y2="367.60" stroke="#c40f1e" stroke-width="2.00"/>
<text transform="translate(464.50 370.50) scale(0.870 1)" font-size="11" font-weight="bold" font-family="'Liberation Sans', Arial, sans-serif" fill="#111" stroke="#111" stroke-width="0.25">AlGr_0.5</text>
<line x1="443.50" y1="381.00" x2="463.00" y2="381.00" stroke="#1010c8" stroke-width="2.00"/>
<text transform="translate(464.50 383.90) scale(0.870 1)" font-size="11" font-weight="bold" font-family="'Liberation Sans', Arial, sans-serif" fill="#111" stroke="#111" stroke-width="0.25">AlGr_0.75</text>
<line x1="443.50" y1="394.00" x2="463.00" y2="394.00" stroke="#c418dc" stroke-width="2.00"/>
<text transform="translate(464.50 396.90) scale(0.870 1)" font-size="11" font-weight="bold" font-family="'Liberation Sans', Arial, sans-serif" fill="#111" stroke="#111" stroke-width="0.25">AlGr_1</text>
</svg>
</body></html>
